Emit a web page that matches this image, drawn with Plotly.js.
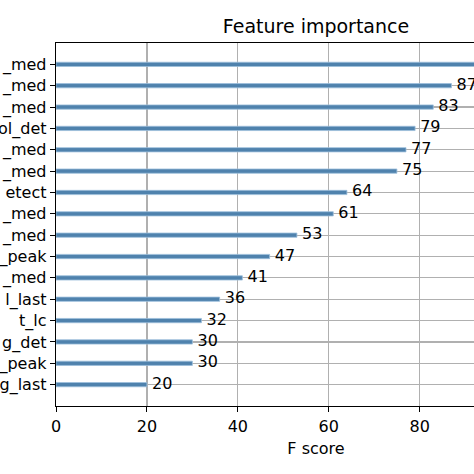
<!DOCTYPE html>
<html>
<head>
<meta charset="utf-8">
<script src="https://cdn.plot.ly/plotly-3.0.1.min.js"></script>
<style>
  html, body { margin: 0; padding: 0; overflow: hidden; background: white; }
  #plot { width: 600px; height: 474px; }
</style>
</head>
<body>
<div id="plot"></div>
<script>
// feature labels as they show in the picture (left side is cut off), bottom to top
const featureLabels = [
  'g_last', '_peak', 'g_det', 't_lc', 'l_last', '_med', '_peak', '_med',
  '_med', 'etect', '_med', '_med', 'ol_det', '_med', '_med', '_med'
];
const fScores = [20, 30, 30, 32, 36, 41, 47, 53, 61, 64, 75, 77, 79, 83, 87, 104];
const xTicks = [0, 20, 40, 60, 80, 100];

const positions = featureLabels.map((_, i) => i);
const FONT = 'DejaVu Sans, sans-serif';

const createBarTrace = () => {
  return {
    type: 'bar',
    orientation: 'h',
    x: fScores,
    y: positions,
    width: 0.2,
    marker: {
      color: '#4f82ad',
      line: { color: '#9dbfdc', width: 0.8 }
    },
    hoverinfo: 'x'
  };
};

const createLabelTrace = () => {
  return {
    type: 'scatter',
    mode: 'text',
    x: fScores,
    y: positions,
    text: fScores.map(v => ' ' + v),
    textposition: 'middle right',
    textfont: { family: FONT, size: 16, color: 'black' },
    cliponaxis: false,
    hoverinfo: 'skip'
  };
};

const layout = {
  width: 600,
  height: 474,
  autosize: false,
  showlegend: false,
  margin: { t: 43, r: 24, b: 68, l: 56 },
  plot_bgcolor: 'white',
  paper_bgcolor: 'white',
  font: { family: FONT, size: 16, color: 'black' },
  title: {
    text: 'Feature importance',
    font: { family: FONT, size: 19, color: 'black' },
    x: 0.5,
    xref: 'paper',
    y: 1 - 26 / 474,
    yref: 'container',
    yanchor: 'middle'
  },
  xaxis: {
    title: {
      text: 'F score',
      font: { family: FONT, size: 16, color: 'black' },
      standoff: 8
    },
    range: [0, 114.4],
    tickvals: xTicks,
    ticks: 'outside',
    ticklen: 5,
    tickcolor: 'black',
    showline: true,
    linecolor: 'black',
    linewidth: 1.3,
    mirror: true,
    showgrid: true,
    gridcolor: '#b0b0b0',
    gridwidth: 1.2,
    zeroline: false,
    automargin: false
  },
  yaxis: {
    range: [-1, 16],
    tickvals: positions,
    ticktext: featureLabels,
    ticks: 'outside',
    ticklen: 5,
    tickcolor: 'black',
    showline: true,
    linecolor: 'black',
    linewidth: 1.3,
    mirror: true,
    showgrid: true,
    gridcolor: '#b0b0b0',
    gridwidth: 1.2,
    zeroline: false,
    automargin: false
  }
};

const config = { displayModeBar: false, staticPlot: true };

Plotly.newPlot('plot', [createBarTrace(), createLabelTrace()], layout, config);
</script>
</body>
</html>
